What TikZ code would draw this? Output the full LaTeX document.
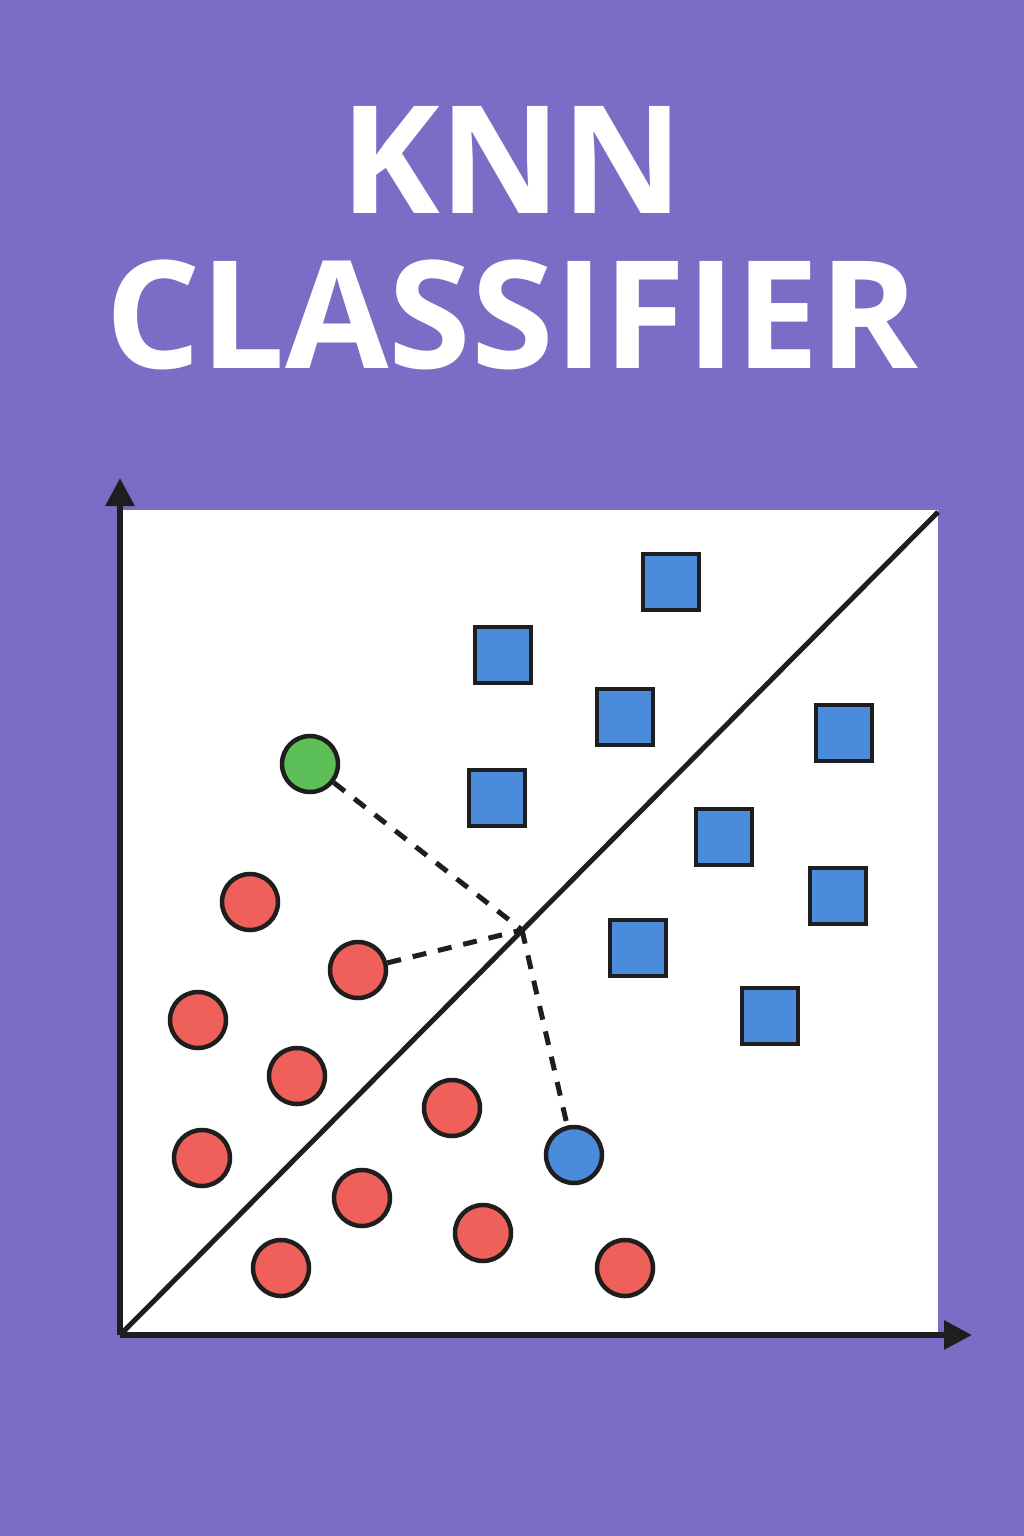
\documentclass[tikz,border=0pt]{standalone}
\usepackage{fontspec}
\setmainfont{Open Sans}
\usetikzlibrary{arrows.meta}
\definecolor{bg}{HTML}{7B6CC6}
\definecolor{redc}{HTML}{F0605A}
\definecolor{bluec}{HTML}{4A8BDB}
\definecolor{greenc}{HTML}{5CBF57}
\definecolor{ink}{HTML}{1E1E1E}
\begin{document}
\begin{tikzpicture}[x=1pt,y=-1pt,
  pt/.style={circle,draw=ink,line width=4.5pt,minimum size=56pt,inner sep=0pt},
  sq/.style={rectangle,draw=ink,line width=4.5pt,minimum size=56pt,inner sep=0pt,fill=bluec},
  ttl/.style={text=white,font=\bfseries\fontsize{150}{150}\selectfont},
  dash/.style={}]
\fill[bg] (0,0) rectangle (1024,1536);
\useasboundingbox (0,0) rectangle (1024,1536);
\node[ttl] (t1) at (512,160) {KNN};
\node[ttl] (t2) at (512,315) {CLASSIFIER};
\fill[white] (122,510) rectangle (938,1335);
\coordinate (o) at (120,1335);
\coordinate (ytop) at (120,478);
\coordinate (xend) at (972,1335);
\coordinate (dend) at (938,512);
\draw[ink,line width=5pt] (o) -- (dend);
\draw[ink,line width=6pt,-{Triangle[length=28pt,width=28pt]}] (o) -- (ytop);
\draw[ink,line width=6pt,-{Triangle[length=28pt,width=28pt]}] (o) -- (xend);
\foreach \n/\x/\y in {r1/250/902,r2/358/970,r3/198/1020,r4/297/1076,r5/452/1108,r6/202/1158,r7/362/1198,r8/483/1233,r9/281/1268,r10/625/1268}
  \node[pt,fill=redc] (\n) at (\x,\y) {};
\node[pt,fill=bluec] (bq) at (574,1155) {};
\node[pt,fill=greenc] (g) at (310,764) {};
\foreach \n/\x/\y in {s1/671/582,s2/503/655,s3/625/717,s4/844/733,s5/497/798,s6/724/837,s7/838/896,s8/638/948,s9/770/1016}
  \node[sq] (\n) at (\x,\y) {};
\coordinate (j) at (522,930);
\draw[ink,line width=5pt,dash pattern=on 14pt off 12pt] (g) -- (j);
\draw[ink,line width=5pt,dash pattern=on 14pt off 12pt] (r2) -- (j);
\draw[ink,line width=5pt,dash pattern=on 14pt off 12pt] (j) -- (bq);
\end{tikzpicture}
\end{document}
